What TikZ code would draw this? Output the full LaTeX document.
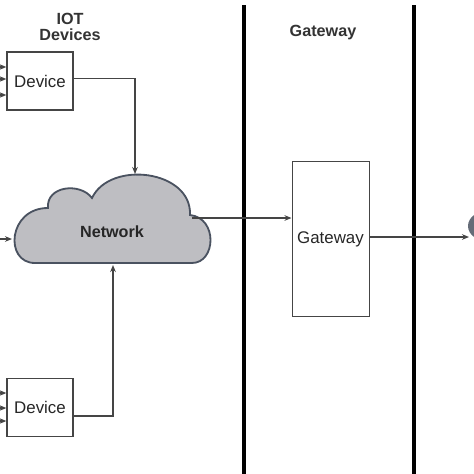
\documentclass[tikz,border=0pt]{standalone}
\usepackage{fontspec}
\setmainfont{Liberation Sans}
\usetikzlibrary{arrows.meta}
\definecolor{linegray}{HTML}{454545}
\definecolor{cloudgray}{HTML}{BEBEC2}
\definecolor{cloudedge}{HTML}{4A5260}
\tikzset{
	devbox/.style={draw=linegray, line width=0.9pt, minimum width=1.65cm, minimum height=1.45cm, inner sep=0pt, font=\fontsize{12}{14}\selectfont, text=black!85},
	gwbox/.style={draw=linegray, line width=0.7pt, minimum width=1.925cm, minimum height=3.85cm, inner sep=0pt, font=\fontsize{12}{14}\selectfont, text=black!85},
	conn/.style={draw=linegray, line width=0.9pt, -{Stealth[length=5pt,width=4pt]}},
	divider/.style={line width=3.4pt, black},
	header/.style={font=\bfseries\fontsize{11.5}{13.5}\selectfont, text=black!80, align=center}
}

\begin{document}
\begin{tikzpicture}[x=0.025cm, y=-0.025cm]
				%%%%% START %%%%%
				\useasboundingbox (0,0) rectangle (474,474);
				
				\draw[divider] (244,5) -- (244,480);
				\draw[divider] (414,5) -- (414,480);
				
				\node[header] (iot-head) at (70,27) {IOT\\[-2pt]Devices};
				\node[header] (gw-head) at (323,33) {Gateway};
				
				\node[devbox] (dev1) at (40,81) {Device};
				\node[devbox] (dev2) at (40,407.5) {Device};
				
				\draw[fill=cloudgray, draw=cloudedge, line width=1.3pt] (35,263) -- (192,263)
					.. controls (216,263) and (218,218) .. (190,215)
					.. controls (192,170) and (110,160) .. (92,198)
					.. controls (80,182) and (46,186) .. (48,208)
					.. controls (8,208) and (4,263) .. (35,263) -- cycle;
				\node[font=\bfseries\fontsize{11.5}{13.5}\selectfont, text=black!85] (net) at (112,232) {Network};
				\coordinate (net-top) at (135,174);
				\coordinate (net-bottom) at (113,265);
				\coordinate (net-left) at (12,239);
				\coordinate (net-right) at (192,218);
				
				\node[gwbox] (gw) at (330.5,239) {Gateway};
				
				\fill[cloudedge!85] (490,226) ellipse (22 and 16);
				\coordinate (far) at (469,237);
				
				\foreach \y in {67,79,95}
					\draw[conn] (-4,\y) -- (dev1.west |- 0,\y);
				\foreach \y in {393,408,421}
					\draw[conn] (-4,\y) -- (dev2.west |- 0,\y);
				\draw[conn] (-4,239) -- (net-left);
				
				\draw[conn] (dev1.4) -| (net-top);
				\draw[conn] (dev2.-14) -| (net-bottom);
				\draw[conn] (net-right) -- (net-right -| gw.west);
				\draw[conn] (gw.east |- far) -- (far);
				%%%%% END %%%%%
\end{tikzpicture}
\end{document}
